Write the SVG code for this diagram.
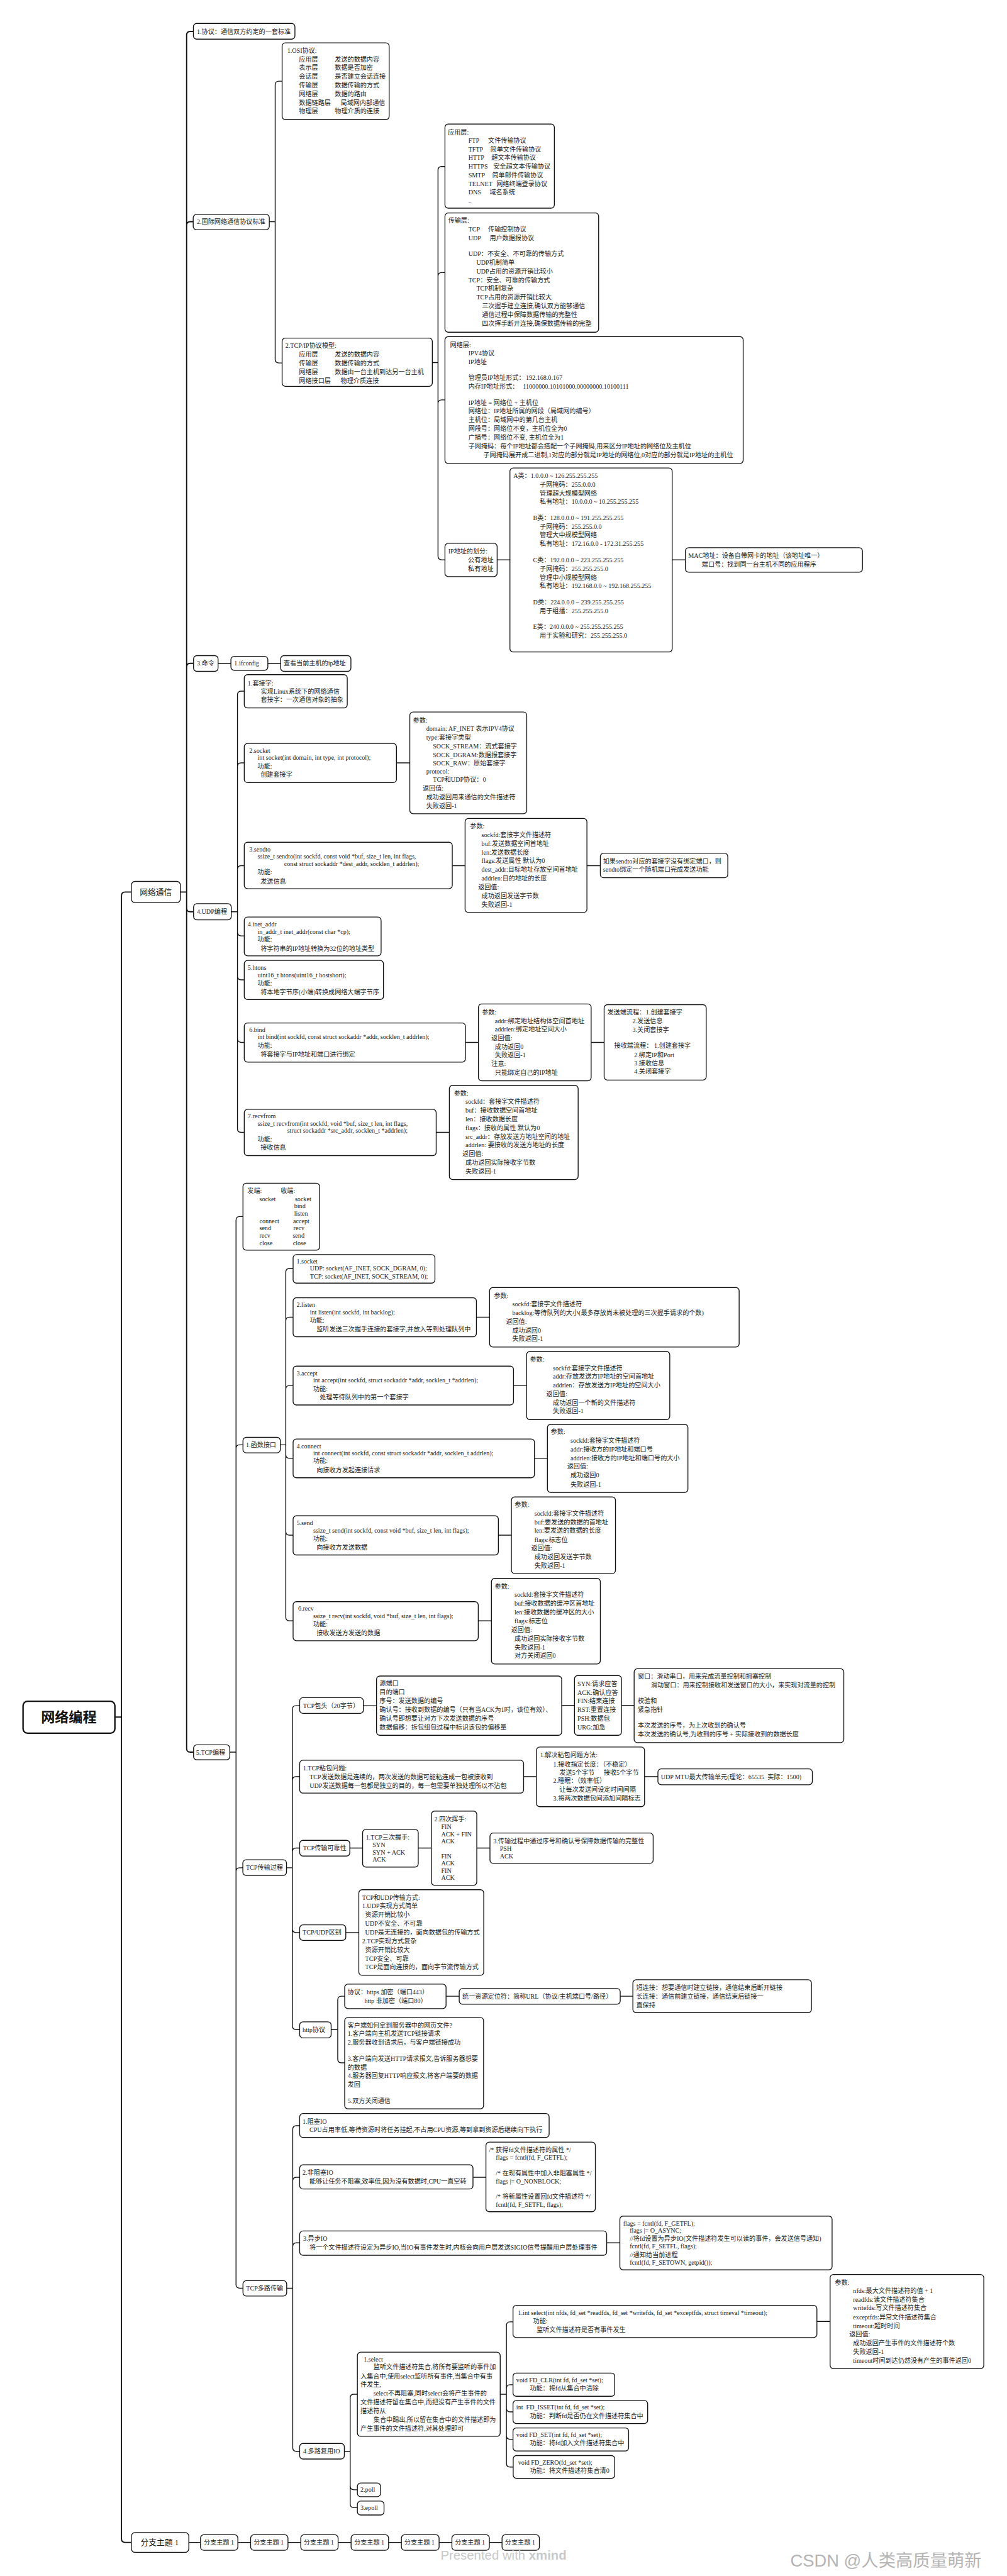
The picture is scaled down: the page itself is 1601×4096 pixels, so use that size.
<svg xmlns="http://www.w3.org/2000/svg" width="1601" height="4096" viewBox="0 0 1601 4096">
<style>
rect.n{fill:#fff;stroke:#111;stroke-width:2.3}
text{font-family:"Liberation Serif","Noto Sans CJK SC",serif;font-size:17.4px;fill:#1a1a1a;white-space:pre}
.c{fill:none;stroke:#111;stroke-width:2.4}
.c3{fill:none;stroke:#111;stroke-width:3.2}
.b{font-size:22px}
.root{font-size:38px;font-weight:bold;fill:#111;font-family:"Liberation Sans","Noto Sans CJK SC",sans-serif}
.wm{font-size:35px;fill:#c9c9c9;font-family:"Liberation Sans",sans-serif}
.wc{font-size:47px;fill:#b4b4b4;font-family:"Liberation Sans","Noto Sans CJK SC",sans-serif}
</style>
<rect width="1601" height="4096" fill="#fff"/>
<g transform="scale(0.58176)">
<g id="connectors">
<path class="c3" d="M314 4693H332M332 2448V6939M332 2448Q332 2438 342 2438H359M332 6939Q332 6949 342 6949H359"/>
<path class="c3" d="M493 2438H510M510 96V4779M510 96Q510 86 520 86H528M510 616Q510 606 520 606H528M510 1823Q510 1813 520 1813H529M510 2482Q510 2492 520 2492H529M510 4779Q510 4789 520 4789H529"/>
<path class="c" d="M736 606H752M752 232V982M752 232Q752 222 762 222H771M752 982Q752 992 762 992H771"/>
<path class="c" d="M1181 991H1197M1197 465V1520M1197 465Q1197 455 1207 455H1216M1197 755Q1197 745 1207 745H1216M1197 1103Q1197 1093 1207 1093H1216M1197 1520Q1197 1530 1207 1530H1216"/>
<path class="c" d="M1358 1530H1394M1837 1530H1873M596 1813H631M732 1813H767"/>
<path class="c" d="M632 2492H649M649 1899V3085M649 1899Q649 1889 659 1889H667M649 2095Q649 2085 659 2085H667M649 2376Q649 2366 659 2366H667M649 2548Q649 2558 659 2558H667M649 2668Q649 2678 659 2678H667M649 2839Q649 2849 659 2849H667M649 3085Q649 3095 659 3095H667"/>
<path class="c" d="M1084 2085H1120M1236 2366H1271M1604 2366H1641M1272 2849H1308M1616 2849H1651M1192 3095H1228"/>
<path class="c" d="M628 4789H645M645 3335V6244M645 3335Q645 3325 655 3325H664M645 3959Q645 3949 655 3949H664M645 5115Q645 5105 655 5105H664M645 6244Q645 6254 655 6254H664"/>
<path class="c" d="M766 3949H781M781 3477V4420M781 3477Q781 3467 791 3467H801M781 3610Q781 3600 791 3600H801M781 3797Q781 3787 791 3787H801M781 3976Q781 3986 791 3986H801M781 4186Q781 4196 791 4196H801M781 4420Q781 4430 791 4430H801"/>
<path class="c" d="M1302 3600H1338M1403 3787H1439M1461 3986H1496M1362 4196H1398M1307 4430H1343"/>
<path class="c" d="M783 5105H799M799 4672V5537M799 4672Q799 4662 809 4662H819M799 4866Q799 4856 809 4856H819M799 5061Q799 5051 809 5051H819M799 5272Q799 5282 809 5282H819M799 5537Q799 5547 809 5547H819"/>
<path class="c" d="M993 4662H1029M1535 4661H1570M1698 4661H1733M1431 4856H1466M1761 4856H1798M956 5051H991M1143 5051H1179M1303 5051H1339M945 5282H981"/>
<path class="c" d="M905 5547H923M923 5466V5628M923 5466Q923 5456 933 5456H942M923 5628Q923 5638 933 5638H942M1219 5456H1255M1695 5456H1730"/>
<path class="c" d="M783 6254H800M800 5820V6690M800 5820Q800 5810 810 5810H819M800 5961Q800 5951 810 5951H819M800 6140Q800 6130 810 6130H819M800 6690Q800 6700 810 6700H819M1293 5951H1328M1658 6130H1694"/>
<path class="c" d="M941 6700H957M957 6554V6844M957 6554Q957 6544 967 6544H977M957 6795Q957 6805 967 6805H977M957 6844Q957 6854 967 6854H977"/>
<path class="c" d="M1367 6544H1384M1384 6356V6733M1384 6356Q1384 6346 1394 6346H1402M1384 6528Q1384 6518 1394 6518H1402M1384 6582Q1384 6592 1394 6592H1402M1384 6657Q1384 6667 1394 6667H1402M1384 6733Q1384 6743 1394 6743H1402M2232 6345H2269"/>
<path class="c" d="M516 6949H548M650 6949H685M787 6949H822M924 6949H960M1062 6949H1097M1200 6949H1235M1337 6949H1372"/>
</g>

<g id="root"><rect class="n" x="63" y="4650" width="251" height="87" rx="12" style="stroke-width:4"/><text class="root" x="112" y="4707">网络编程</text></g>
<g id="wangluotongxin"><rect class="n" x="359" y="2409" width="134" height="58" rx="10"/><text class="b" x="382" y="2446">网络通信</text></g>
<g id="fenzhi0"><rect class="n" x="359" y="6922" width="157" height="54" rx="10"/><text class="b" x="384" y="6957">分支主题 1</text></g>

<g id="xieyi"><rect class="n" x="528.5" y="64" width="277.5" height="43" rx="9"/><text x="538" y="92">1.协议：通信双方约定的一套标准</text></g>
<g id="guoji"><rect class="n" x="528" y="586" width="208" height="42" rx="9"/><text x="538" y="612">2.国际网络通信协议标准</text></g>

<g id="osi"><rect class="n" x="771" y="117" width="292.5" height="210" rx="9"/>
<text x="785" y="143.6">1.OSI协议:</text>
<text x="817" y="167.8">应用层</text><text x="915" y="167.8">发送的数据内容</text>
<text x="817" y="191.4">表示层</text><text x="915" y="191.4">数据是否加密</text>
<text x="817" y="215">会话层</text><text x="915" y="215">是否建立会话连接</text>
<text x="817" y="238.6">传输层</text><text x="915" y="238.6">数据传输的方式</text>
<text x="817" y="262.8">网络层</text><text x="915" y="262.8">数据的路由</text>
<text x="817" y="286.4">数据链路层</text><text x="931" y="286.4">局域网内部通信</text>
<text x="817" y="310">物理层</text><text x="915" y="310">物理介质的连接</text></g>

<g id="tcpip"><rect class="n" x="771" y="924" width="410.5" height="132" rx="9"/>
<text x="780" y="950">2.TCP/IP协议模型:</text>
<text x="817" y="974">应用层</text><text x="915" y="974">发送的数据内容</text>
<text x="817" y="998">传输层</text><text x="915" y="998">数据传输的方式</text>
<text x="817" y="1022">网络层</text><text x="915" y="1022">数据由一台主机到达另一台主机</text>
<text x="817" y="1046">网络接口层</text><text x="931" y="1046">物理介质连接</text></g>

<g id="yingyong"><rect class="n" x="1216" y="339" width="299" height="230" rx="9"/>
<text x="1224" y="367">应用层:</text>
<text x="1280" y="390">FTP</text><text x="1334" y="390">文件传输协议</text>
<text x="1280" y="413.5">TFTP</text><text x="1340" y="413.5">简单文件传输协议</text>
<text x="1280" y="437">HTTP</text><text x="1343" y="437">超文本传输协议</text>
<text x="1280" y="461">HTTPS</text><text x="1348" y="461">安全超文本传输协议</text>
<text x="1280" y="485">SMTP</text><text x="1345" y="485">简单邮件传输协议</text>
<text x="1280" y="508.5">TELNET</text><text x="1356.5" y="508.5">网络终端登录协议</text>
<text x="1280" y="532">DNS</text><text x="1338" y="532">域名系统</text>
<text x="1280" y="556">..</text></g>

<g id="chuanshu"><rect class="n" x="1216" y="582" width="420" height="326" rx="9"/>
<text x="1225" y="608.5">传输层:</text>
<text x="1280" y="632">TCP</text><text x="1334" y="632">传输控制协议</text>
<text x="1280" y="656">UDP</text><text x="1338" y="656">用户数据报协议</text>
<text x="1280" y="700">UDP：不安全、不可靠的传输方式</text>
<text x="1302" y="723">UDP机制简单</text>
<text x="1302" y="747.5">UDP占用的资源开销比较小</text>
<text x="1280" y="771">TCP：安全、可靠的传输方式</text>
<text x="1302" y="795">TCP机制复杂</text>
<text x="1302" y="818">TCP占用的资源开销比较大</text>
<text x="1317" y="842.6">三次握手建立连接,确认双方能够通信</text>
<text x="1317" y="866">通信过程中保障数据传输的完整性</text>
<text x="1317" y="890">四次挥手断开连接,确保数据传输的完整</text></g>

<g id="wangluo"><rect class="n" x="1216" y="920" width="815" height="347" rx="9"/>
<text x="1230" y="948">网络层:</text>
<text x="1280" y="971.4">IPV4协议</text>
<text x="1280" y="995.6">IP地址</text>
<text x="1280" y="1038.4">管理员IP地址形式：</text><text x="1437" y="1038.4">192.168.0.167</text>
<text x="1280" y="1062">内存IP地址形式：</text><text x="1429" y="1062">11000000.10101000.00000000.10100111</text>
<text x="1280" y="1106.6">IP地址 = 网络位 + 主机位</text>
<text x="1280" y="1130">网络位：IP地址所属的网段（局域网的编号）</text>
<text x="1280" y="1154">主机位：局域网中的第几台主机</text>
<text x="1280" y="1177">网段号：网络位不变，主机位全为0</text>
<text x="1280" y="1201">广播号：网络位不变, 主机位全为1</text>
<text x="1280" y="1225">子网掩码：每个IP地址都会搭配一个子网掩码,用来区分IP地址的网络位及主机位</text>
<text x="1321" y="1249">子网掩码展开成二进制,1对应的部分就是IP地址的网络位,0对应的部分就是IP地址的主机位</text></g>

<g id="ipdivide"><rect class="n" x="1216" y="1485" width="142.6" height="91" rx="9"/>
<text x="1225" y="1513">IP地址的划分:</text>
<text x="1279" y="1536.5">公有地址</text>
<text x="1279" y="1560.6">私有地址</text></g>

<g id="ipclass"><rect class="n" x="1393.6" y="1279" width="443.4" height="503" rx="9"/>
<text x="1403" y="1307">A类：1.0.0.0 ~ 126.255.255.255</text>
<text x="1475" y="1330.6">子网掩码：255.0.0.0</text>
<text x="1475" y="1354">管理超大规模型网络</text>
<text x="1475" y="1377.7">私有地址：10.0.0.0 ~ 10.255.255.255</text>
<text x="1457" y="1421.7">B类：128.0.0.0 ~ 191.255.255.255</text>
<text x="1475" y="1445.4">子网掩码：255.255.0.0</text>
<text x="1475" y="1468.8">管理大中规模型网络</text>
<text x="1475" y="1492.5">私有地址：172.16.0.0 - 172.31.255.255</text>
<text x="1457" y="1536.5">C类：192.0.0.0 ~ 223.255.255.255</text>
<text x="1475" y="1560.6">子网掩码：255.255.255.0</text>
<text x="1475" y="1584">管理中小规模型网络</text>
<text x="1475" y="1607.3">私有地址：192.168.0.0 ~ 192.168.255.255</text>
<text x="1457" y="1651.7">D类：224.0.0.0 ~ 239.255.255.255</text>
<text x="1475" y="1675.4">用于组播：255.255.255.0</text>
<text x="1457" y="1718.7">E类：240.0.0.0 ~ 255.255.255.255</text>
<text x="1475" y="1742.8">用于实验和研究：255.255.255.0</text></g>

<g id="mac"><rect class="n" x="1873" y="1497" width="484" height="67" rx="9"/>
<text x="1881" y="1525">MAC地址：设备自带网卡的地址（该地址唯一）</text>
<text x="1918" y="1549">端口号：找到同一台主机不同的应用程序</text></g>

<g id="mingling"><rect class="n" x="529" y="1792" width="67" height="43" rx="9"/><text x="538" y="1819">3.命令</text></g>
<g id="ifconfig"><rect class="n" x="631" y="1794" width="101" height="38" rx="9"/><text x="640" y="1819">1.ifconfig</text></g>
<g id="chakan"><rect class="n" x="767" y="1792" width="192" height="43" rx="9"/><text x="775" y="1819">查看当前主机的ip地址</text></g>

<g id="udp"><rect class="n" x="529" y="2470" width="103" height="44" rx="9"/><text x="538" y="2498">4.UDP编程</text></g>

<g id="taojiezi"><rect class="n" x="667.5" y="1844" width="281.5" height="91" rx="9"/>
<text x="677" y="1873">1.套接字:</text>
<text x="712.5" y="1896">实现Linux系统下的网络通信</text>
<text x="712.5" y="1919">套接字：一次通信对象的抽象</text></g>

<g id="socket"><rect class="n" x="667.5" y="2032" width="416" height="107" rx="9"/>
<text x="681" y="2057">2.socket</text>
<text x="704" y="2077">int socket(int domain, int type, int protocol);</text>
<text x="704" y="2100">功能:</text>
<text x="712" y="2123">创建套接字</text></g>
<g id="socket-args"><rect class="n" x="1120" y="1946" width="319.5" height="278" rx="9"/>
<text x="1128.6" y="1975">参数:</text>
<text x="1165" y="1998">domain: AF_INET 表示IPV4协议</text>
<text x="1165" y="2022">type:套接字类型</text>
<text x="1183" y="2045">SOCK_STREAM：流式套接字</text>
<text x="1183" y="2069">SOCK_DGRAM:数据报套接字</text>
<text x="1183" y="2092">SOCK_RAW：原始套接字</text>
<text x="1165" y="2114.6">protocol:</text>
<text x="1183" y="2137">TCP和UDP协议：0</text>
<text x="1155" y="2161">返回值:</text>
<text x="1165" y="2184">成功返回用来通信的文件描述符</text>
<text x="1165" y="2208">失败返回-1</text></g>

<g id="sendto"><rect class="n" x="667.5" y="2302" width="568.5" height="127" rx="9"/>
<text x="681" y="2327">3.sendto</text>
<text x="704" y="2347">ssize_t sendto(int sockfd, const void *buf, size_t len, int flags,</text>
<text x="776.6" y="2367">const struct sockaddr *dest_addr, socklen_t addrlen);</text>
<text x="704" y="2389.6">功能:</text>
<text x="712" y="2414.6">发送信息</text></g>
<g id="sendto-args"><rect class="n" x="1271" y="2237" width="333" height="257" rx="9"/>
<text x="1284.6" y="2264">参数:</text>
<text x="1316" y="2288">sockfd:套接字文件描述符</text>
<text x="1316" y="2312">buf:发送数据空间首地址</text>
<text x="1316" y="2335.5">len:发送数据长度</text>
<text x="1316" y="2359">flags:发送属性 默认为0</text>
<text x="1316" y="2382">dest_addr:目标地址存放空间首地址</text>
<text x="1316" y="2406">addrlen:目的地址的长度</text>
<text x="1306.6" y="2431">返回值:</text>
<text x="1316" y="2454">成功返回发送字节数</text>
<text x="1316" y="2478">失败返回-1</text></g>
<g id="sendto-note"><rect class="n" x="1640.6" y="2332" width="348.4" height="67" rx="9"/>
<text x="1648" y="2360">如果sendto对应的套接字没有绑定端口，则</text>
<text x="1648" y="2383">sendto绑定一个随机端口完成发送功能</text></g>

<g id="inet_addr"><rect class="n" x="667.5" y="2506.5" width="374" height="106" rx="9"/>
<text x="677" y="2532">4.inet_addr</text>
<text x="704" y="2552">in_addr_t inet_addr(const char *cp);</text>
<text x="704" y="2574">功能:</text>
<text x="712" y="2599">将字符串的IP地址转换为32位的地址类型</text></g>

<g id="htons"><rect class="n" x="667.5" y="2625" width="380.5" height="107" rx="9"/>
<text x="677" y="2651">5.htons</text>
<text x="704" y="2671">uint16_t htons(uint16_t hostshort);</text>
<text x="704" y="2693">功能:</text>
<text x="712" y="2717">将本地字节序(小端)转换成网络大端字节序</text></g>

<g id="bind"><rect class="n" x="667.5" y="2796" width="604.5" height="107" rx="9"/>
<text x="681" y="2820.5">6.bind</text>
<text x="704" y="2840">int bind(int sockfd, const struct sockaddr *addr, socklen_t addrlen);</text>
<text x="704" y="2864">功能:</text>
<text x="712" y="2887">将套接字与IP地址和端口进行绑定</text></g>
<g id="bind-args"><rect class="n" x="1307.5" y="2744" width="308" height="210" rx="9"/>
<text x="1317" y="2772">参数:</text>
<text x="1352.5" y="2796">addr:绑定地址结构体空间首地址</text>
<text x="1352.5" y="2819">addrlen:绑定地址空间大小</text>
<text x="1343" y="2843.5">返回值:</text>
<text x="1352.5" y="2866.5">成功返回0</text>
<text x="1352.5" y="2890">失败返回-1</text>
<text x="1343" y="2913">注意:</text>
<text x="1352.5" y="2937.6">只能绑定自己的IP地址</text></g>
<g id="flow"><rect class="n" x="1651" y="2746" width="279" height="206" rx="9"/>
<text x="1659.6" y="2773">发送端流程：</text><text x="1765" y="2773">1.创建套接字</text>
<text x="1728.4" y="2796.7">2.发送信息</text>
<text x="1728.4" y="2820">3.关闭套接字</text>
<text x="1678.7" y="2864">接收端流程：</text><text x="1787.7" y="2864">1.创建套接字</text>
<text x="1733" y="2889">2.绑定IP和Port</text>
<text x="1733" y="2911.5">3.接收信息</text>
<text x="1733" y="2935">4.关闭套接字</text></g>

<g id="recvfrom"><rect class="n" x="667.5" y="3032" width="524.5" height="126.5" rx="9"/>
<text x="677" y="3057">7.recvfrom</text>
<text x="704" y="3077">ssize_t recvfrom(int sockfd, void *buf, size_t len, int flags,</text>
<text x="785" y="3096.5">struct sockaddr *src_addr, socklen_t *addrlen);</text>
<text x="704" y="3119.5">功能:</text>
<text x="712" y="3143">接收信息</text></g>
<g id="recvfrom-args"><rect class="n" x="1228" y="2966.5" width="352" height="257.5" rx="9"/>
<text x="1240.5" y="2993.7">参数:</text>
<text x="1272" y="3017.5">sockfd：套接字文件描述符</text>
<text x="1272" y="3041">buf：接收数据空间首地址</text>
<text x="1272" y="3065">len：接收数据长度</text>
<text x="1272" y="3088.7">flags：接收的属性 默认为0</text>
<text x="1272" y="3113">src_addr：存放发送方地址空间的地址</text>
<text x="1272" y="3136">addrlen: 要接收的发送方地址的长度</text>
<text x="1263.5" y="3160">返回值:</text>
<text x="1272" y="3184">成功返回实际接收字节数</text>
<text x="1272" y="3207.6">失败返回-1</text></g>

<g id="tcp"><rect class="n" x="529" y="4769" width="99" height="41" rx="9"/><text x="536" y="4795">5.TCP编程</text></g>

<g id="flowtable"><rect class="n" x="664" y="3234" width="209.5" height="183" rx="9"/>
<text x="676" y="3261.6">发端:</text><text x="767" y="3261.6">收端:</text>
<text x="709" y="3283">socket</text><text x="806" y="3283">socket</text>
<text x="804" y="3302">bind</text>
<text x="804" y="3323">listen</text>
<text x="709" y="3343">connect</text><text x="801" y="3343">accept</text>
<text x="709" y="3363">send</text><text x="802" y="3363">recv</text>
<text x="709" y="3383">recv</text><text x="800" y="3383">send</text>
<text x="709" y="3403">close</text><text x="800.5" y="3403">close</text></g>

<g id="funcs"><rect class="n" x="664" y="3928.6" width="102" height="42.4" rx="9"/><text x="672" y="3955.5">1.函数接口</text></g>

<g id="tcp-socket"><rect class="n" x="801" y="3429" width="387.6" height="78" rx="9"/>
<text x="810.5" y="3453.4">1.socket</text>
<text x="847" y="3473">UDP: socket(AF_INET, SOCK_DGRAM, 0);</text>
<text x="847" y="3494">TCP: socket(AF_INET, SOCK_STREAM, 0);</text></g>

<g id="listen"><rect class="n" x="801" y="3547" width="501" height="106.6" rx="9"/>
<text x="810.5" y="3572">2.listen</text>
<text x="847" y="3592">int listen(int sockfd, int backlog);</text>
<text x="847" y="3614.7">功能:</text>
<text x="865" y="3638.7">监听发送三次握手连接的套接字,并放入等到处理队列中</text></g>
<g id="listen-args"><rect class="n" x="1338" y="3519" width="682" height="162.6" rx="9"/>
<text x="1350" y="3547">参数:</text>
<text x="1400" y="3570">sockfd:套接字文件描述符</text>
<text x="1400" y="3594">backlog:等待队列的大小(最多存放尚未被处理的三次握手请求的个数)</text>
<text x="1382.7" y="3617.7">返回值:</text>
<text x="1400" y="3642">成功返回0</text>
<text x="1400" y="3665">失败返回-1</text></g>

<g id="accept"><rect class="n" x="801" y="3734" width="602.4" height="106" rx="9"/>
<text x="810.5" y="3759">3.accept</text>
<text x="856" y="3778.4">int accept(int sockfd, struct sockaddr *addr, socklen_t *addrlen);</text>
<text x="856" y="3801.4">功能:</text>
<text x="873.5" y="3825">处理等待队列中的第一个套接字</text></g>
<g id="accept-args"><rect class="n" x="1439" y="3694" width="391.4" height="186" rx="9"/>
<text x="1448" y="3722">参数:</text>
<text x="1511" y="3745">sockfd:套接字文件描述符</text>
<text x="1511" y="3768">addr:存放发送方IP地址的空间首地址</text>
<text x="1511" y="3792.7">addrlen：存放发送方IP地址的空间大小</text>
<text x="1493" y="3816">返回值:</text>
<text x="1511" y="3839.7">成功返回一个新的文件描述符</text>
<text x="1511" y="3863">失败返回-1</text></g>

<g id="connect"><rect class="n" x="801" y="3933" width="659.6" height="106" rx="9"/>
<text x="810.5" y="3958">4.connect</text>
<text x="856" y="3977.4">int connect(int sockfd, const struct sockaddr *addr, socklen_t addrlen);</text>
<text x="856" y="3999">功能:</text>
<text x="865" y="4023.8">向接收方发起连接请求</text></g>
<g id="connect-args"><rect class="n" x="1496" y="3893" width="384" height="186" rx="9"/>
<text x="1505" y="3920">参数:</text>
<text x="1559" y="3943">sockfd:套接字文件描述符</text>
<text x="1559" y="3967">addr:接收方的IP地址和端口号</text>
<text x="1559" y="3991">addrlen:接收方的IP地址和端口号的大小</text>
<text x="1550" y="4014.5">返回值:</text>
<text x="1559" y="4038">成功返回0</text>
<text x="1559" y="4063">失败返回-1</text></g>

<g id="send"><rect class="n" x="801" y="4143" width="561" height="107" rx="9"/>
<text x="810.5" y="4168.5">5.send</text>
<text x="856" y="4188.5">ssize_t send(int sockfd, const void *buf, size_t len, int flags);</text>
<text x="856" y="4211">功能:</text>
<text x="865" y="4234.6">向接收方发送数据</text></g>
<g id="send-args"><rect class="n" x="1397.6" y="4091.5" width="284.4" height="209.5" rx="9"/>
<text x="1406.7" y="4119">参数:</text>
<text x="1460.6" y="4143">sockfd:套接字文件描述符</text>
<text x="1460.6" y="4167">buf:要发送的数据的首地址</text>
<text x="1460.6" y="4189.6">len:要发送的数据的长度</text>
<text x="1460.6" y="4214">flags:标志位</text>
<text x="1451.5" y="4238">返回值:</text>
<text x="1460.6" y="4262">成功返回发送字节数</text>
<text x="1460.6" y="4285">失败返回-1</text></g>

<g id="recv"><rect class="n" x="801" y="4377.6" width="506" height="106.8" rx="9"/>
<text x="814.6" y="4403">6.recv</text>
<text x="856" y="4422.7">ssize_t recv(int sockfd, void *buf, size_t len, int flags);</text>
<text x="856" y="4445">功能:</text>
<text x="865" y="4468.7">接收发送方发送的数据</text></g>
<g id="recv-args"><rect class="n" x="1343" y="4314" width="297.6" height="234" rx="9"/>
<text x="1352" y="4342">参数:</text>
<text x="1406" y="4364.7">sockfd:套接字文件描述符</text>
<text x="1406" y="4388.5">buf:接收数据的缓冲区首地址</text>
<text x="1406" y="4412">len:接收数据的缓冲区的大小</text>
<text x="1406" y="4436.7">flags:标志位</text>
<text x="1397" y="4460">返回值:</text>
<text x="1406" y="4484">成功返回实际接收字节数</text>
<text x="1406" y="4508">失败返回-1</text>
<text x="1406" y="4531.6">对方关闭返回0</text></g>

<g id="tcp-process"><rect class="n" x="663.6" y="5083" width="119.4" height="43" rx="9"/><text x="672" y="5111">TCP传输过程</text></g>

<g id="tcp-header"><rect class="n" x="819" y="4640" width="174" height="43" rx="9"/><text x="828" y="4668">TCP包头（20字节）</text></g>
<g id="header-fields"><rect class="n" x="1029" y="4581" width="506" height="162" rx="9"/>
<text x="1037" y="4607.4">源端口</text>
<text x="1037" y="4631.5">目的端口</text>
<text x="1037" y="4655">序号：发送数据的编号</text>
<text x="1037" y="4679">确认号：接收到数据的编号（只有当ACK为1时，该位有效）、</text>
<text x="1037" y="4703">确认号即想要让对方下次发送数据的序号</text>
<text x="1037" y="4727">数据偏移：拆包组包过程中标识该包的偏移量</text></g>
<g id="header-flags"><rect class="n" x="1570" y="4579.6" width="128.5" height="163.4" rx="9"/>
<text x="1578" y="4608.5">SYN:请求应答</text>
<text x="1578" y="4632">ACK:确认应答</text>
<text x="1578" y="4655">FIN:结束连接</text>
<text x="1578" y="4679.6">RST:重置连接</text>
<text x="1578" y="4703">PSH:数据包</text>
<text x="1578" y="4726.7">URG:加急</text></g>
<g id="header-window"><rect class="n" x="1733" y="4561" width="573" height="202" rx="9"/>
<text x="1743" y="4588">窗口：滑动串口，用来完成流量控制和拥塞控制</text>
<text x="1779" y="4612.4">滑动窗口：用来控制接收和发送窗口的大小，来实现对流量的控制</text>
<text x="1743" y="4655.6">校验和</text>
<text x="1743" y="4679.6">紧急指针</text>
<text x="1743" y="4722.4">本次发送的序号，为上次收到的确认号</text>
<text x="1743" y="4746.4">本次发送的确认号,为收到的序号 + 实际接收到的数据长度</text></g>

<g id="sticky"><rect class="n" x="819" y="4811" width="612" height="90" rx="9"/>
<text x="828" y="4839">1.TCP粘包问题:</text>
<text x="846" y="4863">TCP发送数据是连续的，两次发送的数据可能粘连成一包被接收到</text>
<text x="846" y="4887">UDP发送数据每一包都是独立的目的，每一包需要单独处理所以不沾包</text></g>
<g id="sticky-fix"><rect class="n" x="1466" y="4775" width="295.5" height="163" rx="9"/>
<text x="1476" y="4803">1.解决粘包问题方法:</text>
<text x="1512" y="4828">1.接收指定长度：（不稳定）</text>
<text x="1529" y="4850.6">发送5个字节</text><text x="1650" y="4850.6">接收5个字节</text>
<text x="1512" y="4874">2.睡眠：（效率低）</text>
<text x="1529" y="4898">让每次发送间设定时间间隔</text>
<text x="1512" y="4922">3.将两次数据包间添加间隔标志</text></g>
<g id="mtu"><rect class="n" x="1798" y="4834.6" width="422" height="43.4" rx="9"/>
<text x="1806" y="4862.4">UDP MTU最大传输单元(理论：65535  实际：1500)</text></g>

<g id="reliable"><rect class="n" x="819" y="5030" width="137" height="43" rx="9"/><text x="828" y="5057">TCP传输可靠性</text></g>
<g id="three"><rect class="n" x="991" y="5000" width="152" height="103" rx="9"/>
<text x="1000" y="5028">1.TCP三次握手:</text>
<text x="1018" y="5048.5">SYN</text>
<text x="1018" y="5068.6">SYN + ACK</text>
<text x="1018" y="5088.7">ACK</text></g>
<g id="four"><rect class="n" x="1179" y="4950" width="124" height="203" rx="9"/>
<text x="1187" y="4978">2.四次挥手:</text>
<text x="1205.7" y="4999">FIN</text>
<text x="1205.7" y="5018.6">ACK + FIN</text>
<text x="1205.7" y="5038.7">ACK</text>
<text x="1205.7" y="5079">FIN</text>
<text x="1205.7" y="5099">ACK</text>
<text x="1205.7" y="5118.6">FIN</text>
<text x="1205.7" y="5138.7">ACK</text></g>
<g id="integrity"><rect class="n" x="1339" y="5010" width="446" height="83" rx="9"/>
<text x="1348" y="5038">3.传输过程中通过序号和确认号保障数据传输的完整性</text>
<text x="1366" y="5058">PSH</text>
<text x="1366" y="5079">ACK</text></g>

<g id="tcpudp"><rect class="n" x="819" y="5261" width="126" height="42.5" rx="9"/><text x="827" y="5288">TCP/UDP区别</text></g>
<g id="tcpudp-detail"><rect class="n" x="980.6" y="5165" width="341.4" height="234" rx="9"/>
<text x="989.5" y="5193">TCP和UDP传输方式:</text>
<text x="989.5" y="5216">1.UDP实现方式简单</text>
<text x="998" y="5240">资源开销比较小</text>
<text x="998" y="5264">UDP不安全、不可靠</text>
<text x="998" y="5288">UDP是无连接的，面向数据包的传输方式</text>
<text x="989.5" y="5311.7">2.TCP实现方式复杂</text>
<text x="998" y="5335">资源开销比较大</text>
<text x="998" y="5359">TCP安全、可靠</text>
<text x="998" y="5382.7">TCP是面向连接的，面向字节流传输方式</text></g>

<g id="http"><rect class="n" x="819" y="5526" width="86" height="44" rx="9"/><text x="827" y="5553">http协议</text></g>
<g id="http-proto"><rect class="n" x="942" y="5423" width="277" height="67" rx="9"/>
<text x="950" y="5450.4">协议：https 加密（端口443）</text>
<text x="996" y="5475">http 非加密（端口80）</text></g>
<g id="url"><rect class="n" x="1255" y="5435" width="440" height="43" rx="9"/>
<text x="1263.6" y="5462">统一资源定位符：简称URL（协议/主机端口号/路径）</text></g>
<g id="conn"><rect class="n" x="1729.6" y="5411" width="488" height="90" rx="9"/>
<text x="1738.7" y="5439">短连接：想要通信时建立链接，通信结束后断开链接</text>
<text x="1738.7" y="5463">长连接：通信前建立链接，通信结束后链接一</text>
<text x="1738.7" y="5487">直保持</text></g>
<g id="http-steps"><rect class="n" x="942" y="5514" width="379.6" height="250" rx="9"/>
<text x="950" y="5542">客户端如何拿到服务器中的网页文件?</text>
<text x="950" y="5565">1.客户端向主机发送TCP链接请求</text>
<text x="950" y="5589">2.服务器收到请求后，与客户端链接成功</text>
<text x="950" y="5633">3.客户端向发送HTTP请求报文,告诉服务器想要</text>
<text x="950" y="5657">的数据</text>
<text x="950" y="5680">4.服务器回复HTTP响应报文,将客户端要的数据</text>
<text x="950" y="5703.6">发回</text>
<text x="950" y="5747.5">5.双方关闭通信</text></g>

<g id="multi"><rect class="n" x="664" y="6233.5" width="119.5" height="42" rx="9"/><text x="672.5" y="6260.5">TCP多路传输</text></g>
<g id="block"><rect class="n" x="819" y="5776.7" width="681.7" height="65.3" rx="9"/>
<text x="827" y="5804">1.阻塞IO</text>
<text x="845.6" y="5827.7">CPU占用率低,等待资源时将任务挂起,不占用CPU资源,等到拿到资源后继续向下执行</text></g>
<g id="nonblock"><rect class="n" x="819" y="5917" width="473.6" height="66" rx="9"/>
<text x="827" y="5944.7">2.非阻塞IO</text>
<text x="845.6" y="5968">能够让任务不阻塞,效率低,因为没有数据时,CPU一直空转</text></g>
<g id="nonblock-code"><rect class="n" x="1328" y="5855" width="299" height="190" rx="9"/>
<text x="1336.5" y="5883">/* 获得fd文件描述符的属性 */</text>
<text x="1355" y="5903.5">flags = fcntl(fd, F_GETFL);</text>
<text x="1355" y="5946">/* 在现有属性中加入非阻塞属性 */</text>
<text x="1355" y="5967.5">flags |= O_NONBLOCK;</text>
<text x="1355" y="6010">/* 将新属性设置回fd文件描述符 */</text>
<text x="1355" y="6031.5">fcntl(fd, F_SETFL, flags);</text></g>
<g id="async"><rect class="n" x="819" y="6097.6" width="839" height="66.4" rx="9"/>
<text x="828.5" y="6124.6">3.异步IO</text>
<text x="845.7" y="6149">将一个文件描述符设定为异步IO,当IO有事件发生时,内核会向用户层发送SIGIO信号提醒用户层处理事件</text></g>
<g id="async-code"><rect class="n" x="1694" y="6057" width="580" height="147" rx="9"/>
<text x="1703" y="6083">flags = fcntl(fd, F_GETFL);</text>
<text x="1721" y="6103">flags |= O_ASYNC;</text>
<text x="1721" y="6125">//将fd设置为异步IO(文件描述符发生可以读的事件，会发送信号通知)</text>
<text x="1721" y="6146">fcntl(fd, F_SETFL, flags);</text>
<text x="1721" y="6169">//通知给当前进程</text>
<text x="1721" y="6190">fcntl(fd, F_SETOWN, getpid());</text></g>
<g id="mux"><rect class="n" x="819" y="6678.5" width="122" height="42.5" rx="9"/><text x="828.5" y="6706">4.多路复用IO</text></g>
<g id="select"><rect class="n" x="976.7" y="6429" width="390.3" height="230" rx="9"/>
<text x="994" y="6454">1.select</text>
<text x="1020.7" y="6476">监听文件描述符集合,将所有要监听的事件加</text>
<text x="985" y="6500.5">入集合中,使用select监听所有事件,当集合中有事</text>
<text x="985" y="6524">件发生,</text>
<text x="1020.7" y="6548">select不再阻塞,同时select会将产生事件的</text>
<text x="985" y="6571">文件描述符留在集合中,而把没有产生事件的文件</text>
<text x="985" y="6595">描述符从</text>
<text x="1020.7" y="6619">集合中踢出,所以留在集合中的文件描述即为</text>
<text x="985" y="6643">产生事件的文件描述符,对其处理即可</text></g>
<g id="select-fn"><rect class="n" x="1402" y="6301" width="830.5" height="88" rx="9"/>
<text x="1415.6" y="6326.5">1.int select(int nfds, fd_set *readfds, fd_set *writefds, fd_set *exceptfds, struct timeval *timeout);</text>
<text x="1457" y="6349.5">功能:</text>
<text x="1466.5" y="6373">监听文件描述符是否有事件发生</text></g>
<g id="select-args"><rect class="n" x="2268.6" y="6216.6" width="420" height="257.4" rx="9"/>
<text x="2281.5" y="6244">参数:</text>
<text x="2331.5" y="6268">nfds:最大文件描述符的值 + 1</text>
<text x="2331.5" y="6291.5">readfds:读文件描述符集合</text>
<text x="2331.5" y="6314">writefds:写文件描述符集合</text>
<text x="2331.5" y="6338.6">exceptfds:异常文件描述符集合</text>
<text x="2331.5" y="6363">timeout:超时时间</text>
<text x="2321" y="6386.5">返回值:</text>
<text x="2331.5" y="6410">成功返回产生事件的文件描述符个数</text>
<text x="2331.5" y="6433.7">失败返回-1</text>
<text x="2331.5" y="6458">timeout时间到达仍然没有产生的事件返回0</text></g>
<g id="fd-clr"><rect class="n" x="1402" y="6486" width="278" height="63.5" rx="9"/>
<text x="1411" y="6511">void FD_CLR(int fd, fd_set *set);</text>
<text x="1448" y="6534">功能：将fd从集合中清除</text></g>
<g id="fd-isset"><rect class="n" x="1402" y="6561" width="368" height="63" rx="9"/>
<text x="1411" y="6585.5">int  FD_ISSET(int fd, fd_set *set);</text>
<text x="1448" y="6608.4">功能：判断fd是否仍在文件描述符集合中</text></g>
<g id="fd-set"><rect class="n" x="1402" y="6636" width="316" height="63" rx="9"/>
<text x="1411" y="6661">void FD_SET(int fd, fd_set *set);</text>
<text x="1448" y="6683.6">功能：将fd加入文件描述符集合中</text></g>
<g id="fd-zero"><rect class="n" x="1402.5" y="6711.6" width="277.5" height="62.2" rx="9"/>
<text x="1416" y="6736">void FD_ZERO(fd_set *set);</text>
<text x="1448" y="6759">功能：将文件描述符集合清0</text></g>
<g id="poll"><rect class="n" x="976.7" y="6786.6" width="63.3" height="37.4" rx="9"/><text x="985" y="6811">2.poll</text></g>
<g id="epoll"><rect class="n" x="976.7" y="6836" width="72.8" height="38" rx="9"/><text x="985" y="6860">3.epoll</text></g>

<g id="fenzhi1"><rect class="n" x="548" y="6928" width="102" height="42.5" rx="9"/><text x="557" y="6955">分支主题 1</text></g>
<g id="fenzhi2"><rect class="n" x="685" y="6928" width="102" height="42.5" rx="9"/><text x="693" y="6955">分支主题 1</text></g>
<g id="fenzhi3"><rect class="n" x="822" y="6928" width="102" height="42.5" rx="9"/><text x="830" y="6955">分支主题 1</text></g>
<g id="fenzhi4"><rect class="n" x="959.5" y="6928" width="102.5" height="42.5" rx="9"/><text x="968" y="6955">分支主题 1</text></g>
<g id="fenzhi5"><rect class="n" x="1097" y="6928" width="103" height="42.5" rx="9"/><text x="1105" y="6955">分支主题 1</text></g>
<g id="fenzhi6"><rect class="n" x="1235" y="6928" width="102.4" height="42.5" rx="9"/><text x="1243" y="6955">分支主题 1</text></g>
<g id="fenzhi7"><rect class="n" x="1372" y="6928" width="102" height="42.5" rx="9"/><text x="1380" y="6955">分支主题 1</text></g>

<text class="wm" x="1204" y="6996">Presented with <tspan font-weight="bold">xmind</tspan></text>
<text class="wc" x="2160" y="7015">CSDN @人类高质量萌新</text>
</g>
</svg>
